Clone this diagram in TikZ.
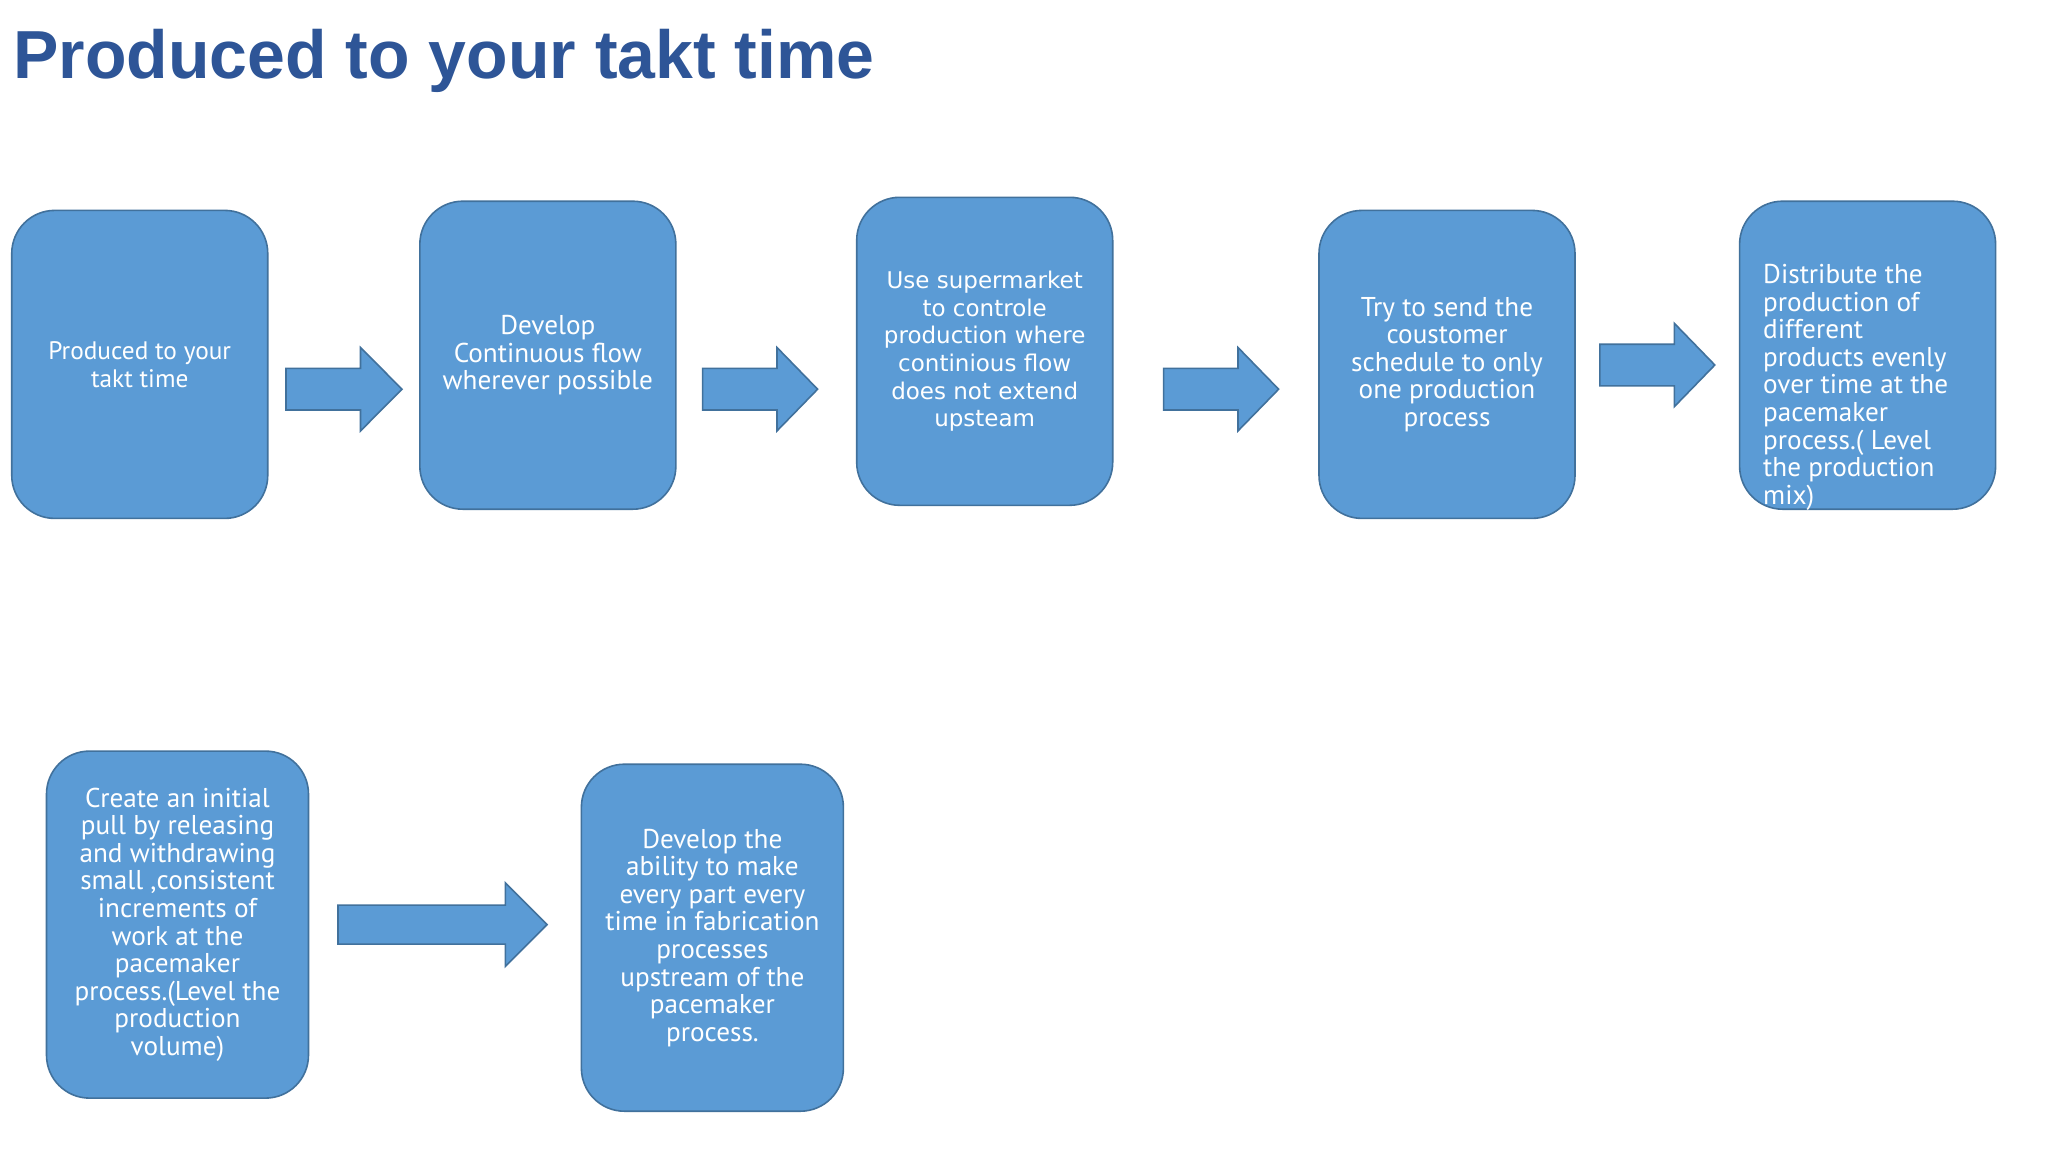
\documentclass[tikz,border=0pt]{standalone}
\usepackage{fontspec}
\newfontfamily\titlefont{Liberation Sans}
\newfontfamily\boxfont{PT Sans}
\newfontfamily\widefont{DejaVu Sans}
\definecolor{titleblue}{HTML}{2E5597}
\definecolor{boxfill}{HTML}{5B9BD5}
\definecolor{boxborder}{HTML}{41719C}
\newcommand\blockarr[5]{% name, tail x, head x, tip x, centre y
  \draw[barrow] (#2,#5-20.8) -- (#3,#5-20.8) -- (#3,#5-41.7) -- (#4,#5) -- (#3,#5+41.7) -- (#3,#5+20.8) -- (#2,#5+20.8) -- cycle;
  \coordinate (#1) at (#4,#5);}
\tikzset{
  procbox/.style={draw=boxborder, line width=1.6pt, fill=boxfill, rounded corners=43pt,
    minimum width=256pt, minimum height=308pt, inner sep=0pt, text=white, align=center,
    font=\boxfont\fontsize{27.2}{27.6}\selectfont},
  tallbox/.style={procbox, minimum width=262pt, minimum height=347pt},
  barrow/.style={draw=boxborder, line width=1.6pt, fill=boxfill, line join=miter},
}
\begin{document}
\begin{tikzpicture}[x=1pt,y=-1pt]
\fill[white] (0,0) rectangle (2048,1152);
\node[anchor=base west, inner sep=0pt, text=titleblue, font=\titlefont\bfseries\fontsize{68}{80}\selectfont] (title) at (13,78) {Produced to your takt time};

\node[procbox, font=\boxfont\fontsize{25.3}{27.6}\selectfont] (b1) at (139.75,364.4) {Produced to your\\takt time};
\node[procbox] (b2) at (547.85,355.2) {Develop\\Continuous flow\\wherever possible};
\node[procbox, font=\widefont\fontsize{23}{27.6}\selectfont] (b3) at (984.7,351.3) {Use supermarket\\to controle\\production where\\continious flow\\does not extend\\upsteam};
\node[procbox] (b4) at (1447,364.4) {Try to send the\\coustomer\\schedule to only\\one production\\process};
\node[procbox] (b5) at (1867.6,355.2) {};
\node[anchor=west, inner sep=0pt, text=white, align=left, font=\boxfont\fontsize{27.2}{27.6}\selectfont] (t5) at (1763,387.3) {Distribute the\\production of\\different\\products evenly\\over time at the\\pacemaker\\process.( Level\\the production\\mix)};
\node[tallbox] (b6) at (177.5,924.6) {Create an initial\\pull by releasing\\and withdrawing\\small ,consistent\\increments of\\work at the\\pacemaker\\process.(Level the\\production\\volume)};
\node[tallbox] (b7) at (712.4,937.7) {Develop the\\ability to make\\every part every\\time in fabrication\\processes\\upstream of the\\pacemaker\\process.};

\blockarr{a1}{286}{360.5}{402}{389.2}
\blockarr{a2}{702.6}{777}{817.6}{389.2}
\blockarr{a3}{1163.6}{1238}{1278.6}{389.2}
\blockarr{a4}{1599.9}{1674.3}{1714.8}{365}
\draw[barrow] (338,924.6-19.5) -- (505.4,924.6-19.5) -- (505.4,924.6-41.7) -- (547,924.6) -- (505.4,924.6+41.7) -- (505.4,924.6+19.5) -- (338,924.6+19.5) -- cycle;
\coordinate (a5) at (547,924.6);
\end{tikzpicture}
\end{document}
